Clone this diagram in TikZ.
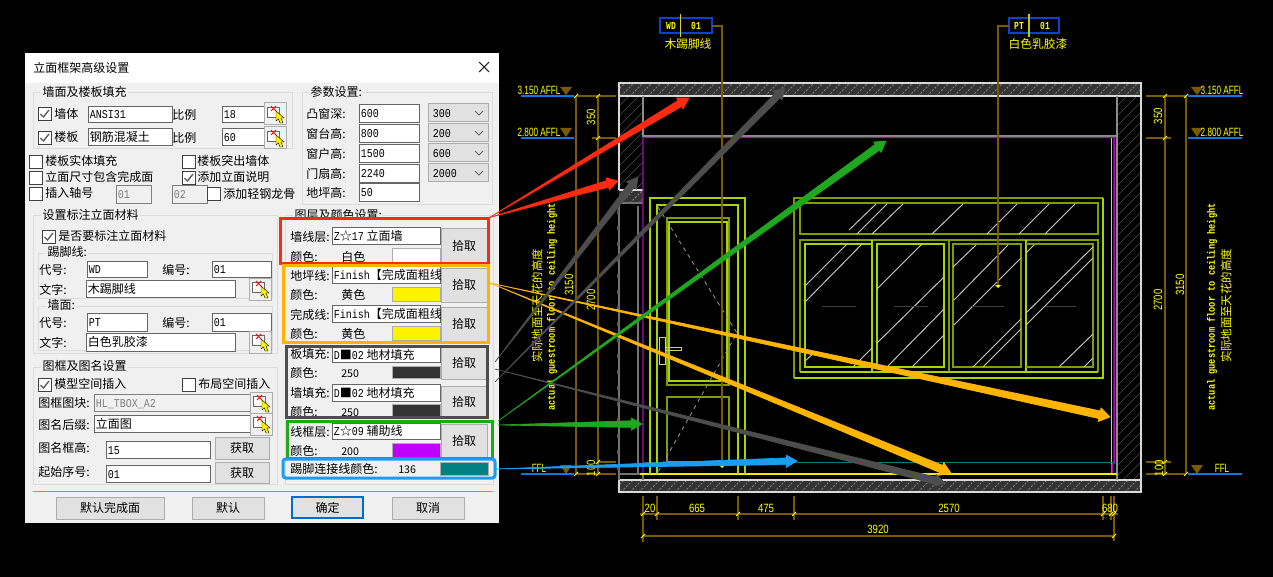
\documentclass[tikz,border=0pt]{standalone}
\usepackage{fontspec}
\setmainfont{Noto Sans CJK SC}
\newfontfamily\monofld{Liberation Mono}
\newfontfamily\cadfont{Liberation Sans}
\usepackage{graphicx}
\usetikzlibrary{calc}

\definecolor{panelgray}{HTML}{F0F0F0}
\definecolor{btngray}{HTML}{E1E1E1}
\definecolor{btnline}{HTML}{ADADAD}
\definecolor{grpline}{HTML}{DCDCDC}
\definecolor{cadyellow}{HTML}{FFFF00}
\definecolor{cadbrown}{HTML}{7A5A00}
\definecolor{limea}{HTML}{A8D400}
\definecolor{limeb}{HTML}{7F9C00}
\definecolor{cadpurple}{HTML}{A010B0}
\definecolor{cadblue}{HTML}{1040D0}
\definecolor{linkred}{HTML}{FF2A12}
\definecolor{linkorange}{HTML}{FFB400}
\definecolor{linkgray}{HTML}{4D4D4D}
\definecolor{linkgreen}{HTML}{1FA81F}
\definecolor{linkblue}{HTML}{1A9CF0}

\tikzset{
	lbl/.style={anchor=west, inner sep=0pt, text height=7.9pt, text depth=1.1pt, font=\fontsize{9}{10}\selectfont},
	grplbl/.style={lbl, fill=panelgray, inner xsep=1pt},
	fieldline/.style={draw=black!60, fill=white, line width=.7pt},
	fieldoff/.style={draw=black!50, fill=panelgray, line width=.7pt},
	fieldtxt/.style={lbl, xshift=1.2pt},
	grpbox/.style={draw=grpline, line width=.75pt},
	btnbox/.style={draw=btnline, fill=btngray, line width=.75pt},
	chkbox/.style={draw=black!75, fill=white, line width=.75pt, anchor=north west, minimum size=9.5pt, inner sep=0pt},
	chkmark/.style={draw=black!65, line width=1pt},
	hilite/.style={draw=#1, line width=2.25pt, inner sep=0pt, rectangle},
	cadlbl/.style={text=cadyellow, inner sep=0pt, font=\cadfont\fontsize{9}{10}\selectfont},
	cadcjk/.style={text=cadyellow, inner sep=0pt, font=\fontsize{8.8}{10}\selectfont},
	cadbold/.style={text=cadyellow, inner sep=0pt, font=\monofld\bfseries\fontsize{8}{9}\selectfont},
	dimline/.style={draw=cadbrown, line width=.85pt},
	tick/.style={draw=cadyellow, line width=.6pt},
	wallline/.style={draw=white!85!black, line width=.85pt},
	wallhatch/.style={draw=white!30!black, line width=.5pt},
	conchatch/.style={draw=white!50!black, line width=.7pt, dash pattern=on 1.5pt off 1.2pt},
	glass/.style={draw=white!80!black, line width=.7pt},
	tagbox/.style={draw=cadblue, line width=.85pt},
	levtri/.style={fill=cadbrown},
	levline/.style={draw=cadblue!70!cyan, line width=.9pt}
}

\newcommand{\flt}[1]{\scalebox{1}[1.2]{\monofld\fontsize{7.5}{9}\selectfont #1}}
\newcommand{\field}[6]{
	\draw[fieldline] (#2,#3) rectangle (#4,#5);
	\begin{scope}
	\clip (#2,#3) rectangle (#4,#5);
	\node[fieldtxt] (#1) at (#2,{(#3+#5)/2}) {#6};
	\end{scope}
}
\newcommand{\fieldgray}[6]{
	\draw[fieldoff] (#2,#3) rectangle (#4,#5);
	\node[fieldtxt, text=black!50] (#1) at (#2,{(#3+#5)/2}) {#6};
}
\newcommand{\btn}[6]{
	\draw[btnbox] (#2,#3) rectangle (#4,#5);
	\node[lbl, anchor=center] (#1) at ({(#2+#4)/2},{(#3+#5)/2}) {#6};
}
\newcommand{\picker}[3]{
	\draw[draw=btnline, fill=panelgray, line width=.75pt] (#2,#3) rectangle ++(22,22);
	\coordinate (#1) at (#2+11,#3+11);
	\draw[draw=black!60, fill=white, line width=.5pt] (#2+3,#3+4) rectangle ++(12,10);
	\draw[red, line width=.6pt] (#2+7,#3+3) -- (#2+12,#3+8) (#2+12,#3+3) -- (#2+7,#3+8);
	\fill[yellow, draw=black, line width=.3pt] (#2+12,#3+8) -- (#2+20,#3+15) -- (#2+17,#3+15) -- (#2+19,#3+20) -- (#2+16,#3+20) -- (#2+14.5,#3+16) -- (#2+12,#3+18) -- cycle;
}
\newcommand{\chk}[3]{\node[chkbox] (#1) at (#2,#3) {};}
\newcommand{\chkon}[3]{
	\node[chkbox] (#1) at (#2,#3) {};
	\draw[chkmark] (#2+2.5,#3+7) -- (#2+5.5,#3+10) -- (#2+11,#3+3);
}
\newcommand{\chevron}[2]{\draw[black!60, line width=.7pt] (#1-4,#2-2) -- (#1,#2+2) -- (#1+4,#2-2);}
\newcommand{\taper}[5]{
	\coordinate (tpbase) at ($(#3)!8pt!(#2)$);
	\filldraw[#1, line width=.5pt] (#2) -- ($(tpbase)!#4!90:(#3)$) -- ($(tpbase)!#5!90:(#3)$) -- (#3) -- ($(tpbase)!#5!-90:(#3)$) -- ($(tpbase)!#4!-90:(#3)$) -- cycle;
}
\newcommand{\cadtxt}[2][.68]{\scalebox{#1}[1]{#2}}

\begin{document}
\begin{tikzpicture}[x=.75pt,y=-.75pt]
	\useasboundingbox (0,0) rectangle (1273,577);
	\fill[black] (0,0) rectangle (1273,577);

	% dialog
	\fill[panelgray] (25,53) rectangle (499,523);
	\fill[white] (25,53) rectangle (499,83);
	\node[lbl] (title) at (33,68) {立面框架高级设置};
	\draw[black!85, line width=.8pt] (479,62) -- (489,72) (489,62) -- (479,72);

	\draw[grpbox] (33,93) rectangle (292,149);
	\node[grplbl] (fillgrp) at (41,92) {墙面及楼板填充};
	\chkon{wallchk}{38}{107}
	\node[lbl] (walllbl) at (54,114) {墙体};
	\field{wallhatchf}{88}{106}{172}{122}{\flt{ANSI31}}
	\node[lbl] (wallratio) at (172,115) {比例};
	\field{wallscale}{222}{106}{264}{122}{\flt{18}}
	\picker{wallpick}{264}{103}
	\chkon{slabchk}{38}{131}
	\node[lbl] (slablbl) at (54,137) {楼板};
	\field{slabhatchf}{88}{128}{172}{145}{钢筋混凝土}
	\node[lbl] (slabratio) at (172,138) {比例};
	\field{slabscale}{222}{128}{264}{145}{\flt{60}}
	\picker{slabpick}{264}{127}

	\chk{solidchk}{29}{155}
	\node[lbl] (solidlbl) at (45,161) {楼板实体填充};
	\chk{protchk}{182}{155}
	\node[lbl] (protlbl) at (197,161) {楼板突出墙体};
	\chk{sizechk}{29}{171}
	\node[lbl] (sizelbl) at (45,177) {立面尺寸包含完成面};
	\chkon{notechk}{182}{171}
	\node[lbl] (notelbl) at (197,177) {添加立面说明};
	\chk{axischk}{29}{187}
	\node[lbl] (axislbl) at (45,193) {插入轴号};
	\fieldgray{axisa}{116}{185}{151}{203}{\flt{01}}
	\fieldgray{axisb}{172}{185}{207}{203}{\flt{02}}
	\chk{steelchk}{207}{187}
	\node[lbl] (steellbl) at (223,194) {添加轻钢龙骨};

	\draw[grpbox] (33,216) rectangle (277,353);
	\node[grplbl] (matgrp) at (41,215) {设置标注立面材料};
	\chkon{matchk}{42}{230}
	\node[lbl] (matlbl) at (58,236) {是否要标注立面材料};
	\draw[grpbox] (38,253) rectangle (272,298);
	\node[grplbl] (skirtgrp) at (46,252) {踢脚线:};
	\node[lbl] (skirtcode) at (39,270) {代号:};
	\field{skirtcodef}{87}{261}{147}{277}{\flt{WD}}
	\node[lbl] (skirtnum) at (162,270) {编号:};
	\field{skirtnumf}{212}{261}{271}{277}{\flt{01}}
	\node[lbl] (skirttxt) at (39,290) {文字:};
	\field{skirttxtf}{86}{280}{235}{297}{木踢脚线}
	\picker{skirtpick}{249}{278}
	\draw[grpbox] (38,306) rectangle (272,350);
	\node[grplbl] (facegrp) at (46,305) {墙面:};
	\node[lbl] (facecode) at (39,323) {代号:};
	\field{facecodef}{87}{313}{147}{331}{\flt{PT}}
	\node[lbl] (facenum) at (162,323) {编号:};
	\field{facenumf}{212}{313}{271}{331}{\flt{01}}
	\node[lbl] (facetxt) at (39,343) {文字:};
	\field{facetxtf}{86}{333}{235}{351}{白色乳胶漆}
	\picker{facepick}{249}{331}

	\draw[grpbox] (33,367) rectangle (277,484);
	\node[grplbl] (framegrp) at (41,366) {图框及图名设置};
	\chkon{modelchk}{38}{378}
	\node[lbl] (modellbl) at (54,384) {模型空间插入};
	\chk{layoutchk}{182}{378}
	\node[lbl] (layoutlbl) at (198,384) {布局空间插入};
	\node[lbl] (blocklbl) at (38,403) {图框图块:};
	\fieldgray{blockf}{94}{394}{250}{411}{\flt{HL\_TBOX\_A2}}
	\picker{blockpick}{250}{392}
	\node[lbl] (suffixlbl) at (38,425) {图名后缀:};
	\field{suffixf}{94}{415}{250}{432}{立面图}
	\picker{suffixpick}{250}{413}
	\node[lbl] (heightlbl) at (38,448) {图名框高:};
	\field{heightf}{106}{441}{210}{458}{\flt{15}}
	\btn{heightbtn}{215}{437}{269}{459}{获取}
	\node[lbl] (startlbl) at (38,472) {起始序号:};
	\field{startf}{106}{465}{210}{482}{\flt{01}}
	\btn{startbtn}{215}{462}{269}{483}{获取}

	\draw[grpbox] (302,93) rectangle (492,205);
	\node[grplbl] (paramgrp) at (309,92) {参数设置:};
	\node[lbl] (baylbl) at (306,114) {凸窗深:};
	\node[lbl] (silllbl) at (306,134) {窗台高:};
	\node[lbl] (winlbl) at (306,154) {窗户高:};
	\node[lbl] (doorlbl) at (306,174) {门扇高:};
	\node[lbl] (floorlbl) at (306,193) {地坪高:};
	\field{bayf}{359}{104}{419}{122}{\flt{600}}
	\field{sillf}{359}{124}{419}{142}{\flt{800}}
	\field{winf}{359}{144}{419}{162}{\flt{1500}}
	\field{doorf}{359}{164}{419}{182}{\flt{2240}}
	\field{floorf}{359}{183}{419}{201}{\flt{50}}
	\btn{baycb}{428}{104}{488}{122}{}
	\btn{sillcb}{428}{124}{488}{142}{}
	\btn{wincb}{428}{144}{488}{162}{}
	\btn{doorcb}{428}{164}{488}{182}{}
	\node[fieldtxt] (bayv) at (431,113) {\flt{300}};
	\node[fieldtxt] (sillv) at (431,133) {\flt{200}};
	\node[fieldtxt] (winv) at (431,153) {\flt{600}};
	\node[fieldtxt] (doorv) at (431,173) {\flt{2000}};
	\chevron{479}{113} \chevron{479}{133} \chevron{479}{153} \chevron{479}{173}

	\draw[grpbox] (285,216) rectangle (493,484);
	\node[grplbl] (layergrp) at (293,215) {图层及颜色设置:};
	\node[lbl] (walllayer) at (290,237) {墙线层:};
	\field{walllayerf}{332}{227}{440}{244}{\flt{Z}☆\flt{17} 立面墙}
	\btn{wallbtn}{441}{229}{487}{262}{拾取}
	\node[lbl] (wallcol) at (290,257) {颜色:};
	\node[lbl] (wallcolv) at (341,257) {白色};
	\draw[draw=btnline, fill=white] (392,248) rectangle (440,262);
	\node[lbl] (floorlayer) at (290,276) {地坪线:};
	\field{floorlayerf}{332}{266}{440}{283}{\flt{Finish}【完成面粗线}
	\btn{floorbtn}{441}{268}{487}{302}{拾取}
	\node[lbl] (floorcol) at (290,295) {颜色:};
	\node[lbl] (floorcolv) at (341,295) {黄色};
	\draw[draw=btnline, fill=yellow] (392,287) rectangle (440,301);
	\node[lbl] (finlayer) at (290,315) {完成线:};
	\field{finlayerf}{332}{305}{440}{322}{\flt{Finish}【完成面粗线}
	\btn{finbtn}{441}{307}{487}{341}{拾取}
	\node[lbl] (fincol) at (290,334) {颜色:};
	\node[lbl] (fincolv) at (341,334) {黄色};
	\draw[draw=btnline, fill=yellow] (392,326) rectangle (440,340);
	\node[lbl] (slablayer) at (290,354) {板填充:};
	\field{slablayerf}{332}{347}{440}{362}{\flt{D}■\flt{02} 地材填充}
	\btn{slabbtn}{441}{347}{487}{379}{拾取}
	\node[lbl] (slabcol) at (290,373) {颜色:};
	\node[lbl] (slabcolv) at (341,373) {\fontsize{8}{9}\selectfont 250};
	\draw[draw=btnline, fill=black!80] (392,366) rectangle (440,378);
	\node[lbl] (filllayer) at (290,393) {墙填充:};
	\field{filllayerf}{332}{384}{440}{401}{\flt{D}■\flt{02} 地材填充}
	\btn{fillbtn}{441}{386}{487}{417}{拾取}
	\node[lbl] (fillcol) at (290,412) {颜色:};
	\node[lbl] (fillcolv) at (341,412) {\fontsize{8}{9}\selectfont 250};
	\draw[draw=btnline, fill=black!80] (392,404) rectangle (440,417);
	\node[lbl] (framelayer) at (290,432) {线框层:};
	\field{framelayerf}{332}{423}{440}{439}{\flt{Z}☆\flt{09} 辅助线}
	\btn{framebtn}{441}{424}{487}{457}{拾取}
	\node[lbl] (framecol) at (290,451) {颜色:};
	\node[lbl] (framecolv) at (341,451) {\fontsize{8}{9}\selectfont 200};
	\draw[draw=btnline, fill={rgb,255:red,191;green,0;blue,255}] (392,443) rectangle (440,457);
	\node[lbl] (linkcol) at (290,469) {踢脚连接线颜色:};
	\node[lbl] (linkcolv) at (398,469) {\fontsize{8}{9}\selectfont 136};
	\draw[draw=btnline, fill={rgb,255:red,0;green,128;blue,128}] (440,462) rectangle (488,475);

	\draw[draw=red!45!pink, line width=.75pt] (33,491) -- (493,491);
	\btn{defaultall}{56}{497}{164}{519}{默认完成面}
	\btn{defaultbtn}{192}{497}{264}{519}{默认}
	\btn{okbtn}{292}{497}{363}{518}{确定}
	\draw[draw={rgb,255:red,0;green,110;blue,200}, line width=1.3pt] (292,497) rectangle (363,518);
	\btn{cancelbtn}{392}{497}{464}{519}{取消}

	% highlight boxes
	\node[hilite=linkred, minimum width=156pt, minimum height=33pt] (redbox) at (384,241) {};
	\node[hilite=linkorange, minimum width=153.75pt, minimum height=57.75pt] (orangebox) at (385.5,303.5) {};
	\node[hilite=linkgray, minimum width=150.75pt, minimum height=53.25pt] (graybox) at (386.5,381.5) {};
	\node[hilite=linkgreen, minimum width=153.75pt, minimum height=27.75pt] (greenbox) at (389.5,439.5) {};
	\node[hilite=linkblue, rounded corners=2pt, minimum width=159pt, minimum height=14.25pt] (bluebox) at (389,468.5) {};

	% walls
	\begin{scope}
	\clip (619,96) rectangle (643,190);
	\foreach \hy in {96,106,...,226} \draw[wallhatch] (619,\hy) -- (643,\hy-24);
	\end{scope}
	\begin{scope}
	\clip (1117,96) rectangle (1141,480);
	\foreach \hy in {96,106,...,516} \draw[wallhatch] (1117,\hy) -- (1141,\hy-24);
	\end{scope}
	\begin{scope}
	\clip (619,83) rectangle (1141,96);
	\fill[black!80] (619,83) rectangle (1141,96);
	\foreach \hx in {612,621,...,1140} \draw[conchatch] (\hx,96) -- (\hx+13,83);
	\end{scope}
	\begin{scope}
	\clip (619,480) rectangle (1141,492);
	\fill[black!80] (619,480) rectangle (1141,492);
	\foreach \hx in {612,621,...,1140} \draw[conchatch] (\hx,492) -- (\hx+12,480);
	\end{scope}
	\begin{scope}
	\clip (619,190) rectangle (643,203);
	\fill[black!80] (619,190) rectangle (643,203);
	\foreach \hx in {612,621,...,640} \draw[conchatch] (\hx,203) -- (\hx+13,190);
	\end{scope}
	\draw[wallline] (619,190) -- (619,83) -- (1141,83) -- (1141,492) -- (619,492) -- (619,480) -- (1141,480);
	\draw[wallline] (619,96) -- (1141,96);
	\draw[draw=black!45, line width=.85pt] (643,96) -- (643,137) (1117,96) -- (1117,480) (643,136) -- (1117,136);
	\draw[wallline] (619,190) -- (643,190);
	\draw[draw=black!55, line width=.85pt] (619,203) -- (643,203) (619,203) -- (619,480) (638,206) -- (638,474) (619,474) -- (643,474) (643,474) -- (643,480);
	\draw[draw=black!65, line width=1.5pt, dash pattern=on 3pt off 9pt] (618,210) -- (618,480);

	% inner lines
	\draw[draw=black!20!yellow!80!white, line width=.7pt] (1111,138) -- (1111,474);
	\draw[draw=cadpurple, line width=1.1pt] (643,137.5) -- (1115,137.5) (643,137.5) -- (643,473) (1114,137.5) -- (1114,463) -- (1112,465) -- (1112,473);
	\draw[draw={rgb,255:red,0;green,128;blue,128}, line width=.85pt] (643,462.5) -- (1113,462.5);
	\draw[draw=yellow!95!black, line width=.85pt] (640,474) -- (1117,474);

	% door
	\draw[draw=limea, line width=.85pt] (650,474) -- (650,198) -- (745,198) -- (745,474) (657,474) -- (657,205) -- (738,205) -- (738,474);
	\draw[draw=limea, line width=.85pt] (669,381) -- (669,222) -- (727,222) -- (727,381) -- cycle;
	\draw[draw=limeb, line width=.85pt] (667,385) -- (667,218) -- (729,218) -- (729,385) -- cycle;
	\draw[draw=limeb, line width=.85pt] (667,397) rectangle (729,462);
	\draw[draw=white!60!black, line width=.6pt, dashed] (658,207) -- (737,333) -- (658,472);
	\draw[draw=yellow!50!white!80!black, line width=.7pt] (659,337) rectangle (665,364) (665,347) rectangle (681,350);

	% window
	\draw[draw=limeb, line width=1pt] (794,378) -- (794,198) -- (1103,198) (800,203) rectangle (1098,234) (800,372) -- (800,240) -- (1098,240) -- (1098,372);
	\draw[draw=limea, line width=.85pt] (794,378) -- (1103,378) -- (1103,198) (800,372) -- (1098,372);
	\draw[draw=limea, line width=.85pt] (805,244) rectangle (872,367) (877,244) rectangle (944,367) (1026,240) -- (1026,372) (872,240) -- (872,372);
	\draw[draw=limeb, line width=.85pt] (953,244) rectangle (1021,367) (949,240) -- (949,372) (1026,244) -- (1093,244) -- (1093,367) -- (1026,367);
	\foreach \ga/\gb/\gc/\gd in {876/204/849/230, 887/204/857/234, 903/204/872/234, 963/204/932/234, 1017/204/987/234, 1049/204/1019/234, 1075/204/1045/234, 847/244/805/286, 862/244/805/302, 815/352/805/361, 872/348/853/367, 922/244/877/289, 944/277/877/343, 944/309/887/367, 944/335/912/367, 976/245/953/267, 1008/245/954/300, 1021/258/954/325, 1021/319/973/367, 1021/329/983/367, 1034/245/1026/253, 1093/247/1026/313, 1093/258/1026/325, 1093/334/1059/367, 1093/358/1084/367}
		\draw[glass] (\ga,\gb) -- (\gc,\gd);
	\foreach \ga/\gb in {822/856, 894/928, 970/1004, 1045/1076}
		\draw[draw=black!75, line width=.6pt] (\ga,306) -- (\gb,306);

	% dimensions
	\draw[dimline] (576,96) -- (576,474) (598,96) -- (598,474) (576,96) -- (616,96) (592,138) -- (616,138) (598,462) -- (616,462) (576,474) -- (616,474);
	\draw[dimline] (1165,96) -- (1165,474) (1186,96) -- (1186,474) (1146,96) -- (1186,96) (1146,138) -- (1171,138) (1146,462) -- (1171,462) (1146,474) -- (1186,474);
	\draw[dimline] (640,514) -- (1118,514) (643,536) -- (1115,536) (643,496) -- (643,542) (1114,496) -- (1114,541);
	\foreach \dx in {657,738,794,1103,1111} \draw[dimline] (\dx,496) -- (\dx,520);
	\foreach \tx/\ty in {576/96, 598/96, 598/138, 598/462, 576/474, 598/474, 1165/96, 1186/96, 1165/138, 1165/462, 1165/474, 1186/474, 643/514, 657/514, 738/514, 794/514, 1103/514, 1111/514, 1114/514, 643/536, 1114/536}
		\draw[tick] (\tx-2,\ty+2) -- (\tx+2,\ty-2);
	\node[cadlbl, rotate=90] (dimla) at (591,117) {\cadtxt[.8]{350}};
	\node[cadlbl, rotate=90] (dimlb) at (569,285) {\cadtxt[.8]{3150}};
	\node[cadlbl, rotate=90] (dimlc) at (591,300) {\cadtxt[.8]{2700}};
	\node[cadlbl, rotate=90] (dimld) at (591,468) {\cadtxt[.8]{100}};
	\node[cadlbl, rotate=90] (dimra) at (1158,116) {\cadtxt[.8]{350}};
	\node[cadlbl, rotate=90] (dimrb) at (1180,285) {\cadtxt[.8]{3150}};
	\node[cadlbl, rotate=90] (dimrc) at (1158,300) {\cadtxt[.8]{2700}};
	\node[cadlbl, rotate=90] (dimrd) at (1159,468) {\cadtxt[.8]{100}};
	\node[cadlbl] (dimba) at (650,508) {\cadtxt[.8]{20}};
	\node[cadlbl] (dimbb) at (697,508) {\cadtxt[.8]{665}};
	\node[cadlbl] (dimbc) at (766,508) {\cadtxt[.8]{475}};
	\node[cadlbl] (dimbd) at (949,508) {\cadtxt[.8]{2570}};
	\node[cadlbl] (dimbe) at (1110,508) {\cadtxt[.8]{680}};
	\node[cadlbl] (dimbf) at (878,529) {\cadtxt[.8]{3920}};

	% level marks
	\foreach \tx in {560,1191} \foreach \ty/\tz in {87/95, 128/137, 465/474}
		\fill[levtri] (\tx,\ty) -- (\tx+12,\ty) -- (\tx+6,\tz) -- cycle;
	\draw[levline] (521,96) -- (574,96) (521,138) -- (574,138) (521,474) -- (574,474);
	\draw[levline] (1188,96) -- (1242,96) (1188,138) -- (1242,138) (1188,474) -- (1242,474);
	\node[cadlbl] (levla) at (539,90) {\cadtxt{3.150 AFFL}};
	\node[cadlbl] (levlb) at (539,132) {\cadtxt{2.800 AFFL}};
	\node[cadlbl] (levlc) at (539,468) {\cadtxt{FFL}};
	\node[cadlbl] (levra) at (1222,90) {\cadtxt{3.150 AFFL}};
	\node[cadlbl] (levrb) at (1222,132) {\cadtxt{2.800 AFFL}};
	\node[cadlbl] (levrc) at (1222,468) {\cadtxt{FFL}};
	\node[cadbold, rotate=90] (heightla) at (552,307) {\cadtxt[.81]{actual guestroom floor to ceiling height}};
	\node[cadcjk, rotate=90] (heightlb) at (537,306) {\cadtxt[.97]{实际地面至天花的高度}};
	\node[cadbold, rotate=90] (heightra) at (1212,307) {\cadtxt[.81]{actual guestroom floor to ceiling height}};
	\node[cadcjk, rotate=90] (heightrb) at (1226,306) {\cadtxt[.97]{实际地面至天花的高度}};

	% material tags
	\draw[tagbox] (660,18) rectangle (712,33);
	\draw[tagbox] (1009,18) rectangle (1059,33);
	\draw[draw=yellow!85!black, line width=.75pt] (680,14) -- (680,37);
	\draw[draw=limeb!50!yellow, line width=.9pt] (1029,14) -- (1029,37);
	\node[cadbold] (tagwd) at (671,26) {\cadtxt[.75]{WD}};
	\node[cadbold] (tagwdn) at (696,26) {\cadtxt[.75]{01}};
	\node[cadbold] (tagpt) at (1019,26) {\cadtxt[.75]{PT}};
	\node[cadbold] (tagptn) at (1045,26) {\cadtxt[.75]{01}};
	\node[cadcjk] (tagwdt) at (688,44) {木踢脚线};
	\node[cadcjk] (tagptt) at (1038,44) {白色乳胶漆};
	\coordinate (wdend) at (722,467);
	\coordinate (ptend) at (998,287);
	\draw[dimline] (712,26) -- (722,26) -- (wdend);
	\draw[dimline] (1009,26) -- (998,26) -- (ptend);
	\fill[cadyellow] (719,465) -- (725,465) -- (722,468) -- cycle;
	\fill[cadyellow] (995,285) -- (1001,285) -- (998,288) -- cycle;

	% pointers
	\coordinate (redtipa) at (689,98);
	\coordinate (redtipb) at (618,181);
	\coordinate (orangeout) at (490,283);
	\coordinate (orangetipa) at (1110,417);
	\coordinate (orangetipb) at (951,473);
	\coordinate (grayouta) at (495,362);
	\coordinate (grayoutb) at (495,382);
	\coordinate (grayoutc) at (495,369);
	\coordinate (graytipa) at (638,177);
	\coordinate (graytipb) at (785,88);
	\coordinate (graytipc) at (945,483);
	\coordinate (greenouta) at (498,421);
	\coordinate (greenoutb) at (498,425);
	\coordinate (greentipa) at (886,141);
	\coordinate (greentipb) at (642,424);
	\coordinate (blueout) at (495,469);
	\coordinate (bluetip) at (797,461);
	\taper{linkred}{redbox.north east}{redtipa}{2.6pt}{4.8pt}
	\taper{linkred}{redbox.north east}{redtipb}{2.6pt}{4.8pt}
	\taper{linkorange}{orangeout}{orangetipa}{2.9pt}{5.2pt}
	\taper{linkorange}{orangeout}{orangetipb}{2.9pt}{5.2pt}
	\taper{linkgray}{grayouta}{graytipa}{2.5pt}{4.6pt}
	\taper{linkgray}{grayoutb}{graytipb}{2.5pt}{4.6pt}
	\taper{linkgray}{grayoutc}{graytipc}{2.6pt}{4.6pt}
	\taper{linkgreen}{greenouta}{greentipa}{2.7pt}{4.8pt}
	\taper{linkgreen}{greenoutb}{greentipb}{2.5pt}{4.6pt}
	\taper{linkblue}{blueout}{bluetip}{2.5pt}{4.6pt}
\end{tikzpicture}
\end{document}
